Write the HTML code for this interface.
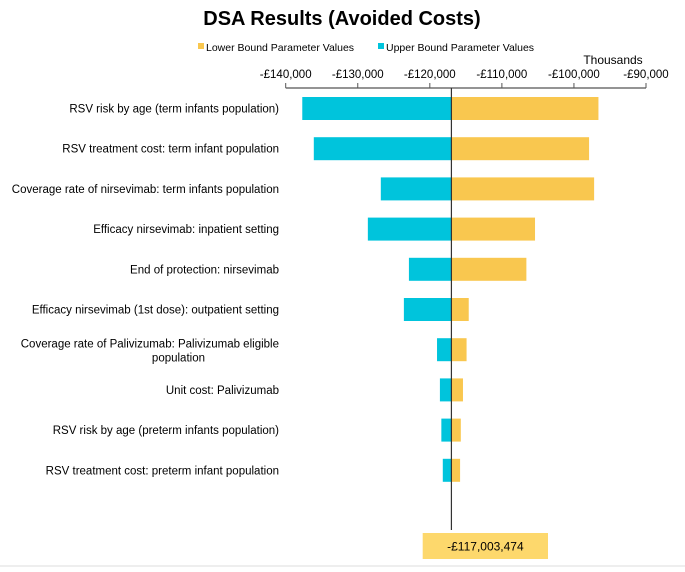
<!DOCTYPE html>
<html><head><meta charset="utf-8"><style>
body{margin:0;background:#fff;font-family:"Liberation Sans",Arial,sans-serif}
svg text{font-family:"Liberation Sans",Arial,sans-serif}
</style></head><body>
<svg id="c" width="685" height="567" xmlns="http://www.w3.org/2000/svg">
<text x="342" y="25" text-anchor="middle" font-size="20" font-weight="bold">DSA Results (Avoided Costs)</text>
<g>
<rect x="198" y="43" width="6" height="6" fill="#f9c74f"/>
<text x="206" y="51" font-size="10.5">Lower Bound Parameter Values</text>
<rect x="378" y="43" width="6" height="6" fill="#00c4dc"/>
<text x="386" y="51" font-size="10.5">Upper Bound Parameter Values</text>
</g>
<text x="613" y="64" text-anchor="middle" font-size="12">Thousands</text>
<g id="plot"></g>
</svg>
<script>
const categories=["RSV risk by age (term infants population)","RSV treatment cost: term infant population","Coverage rate of nirsevimab: term infants population","Efficacy nirsevimab: inpatient setting","End of protection: nirsevimab","Efficacy nirsevimab (1st dose): outpatient setting","Coverage rate of Palivizumab: Palivizumab eligible|population","Unit cost: Palivizumab","RSV risk by age (preterm infants population)","RSV treatment cost: preterm infant population"];
const upperValues=[-137.7,-136.1,-126.8,-128.6,-122.9,-123.6,-119.0,-118.6,-118.4,-118.2];
const lowerValues=[-96.6,-97.9,-97.2,-105.4,-106.6,-114.6,-114.9,-115.4,-115.7,-115.8];
const baseValue=-117.003474;
const baseLabel="-£117,003,474";
const ticks=[-140,-130,-120,-110,-100,-90];
const tickLabels=["-£140,000","-£130,000","-£120,000","-£110,000","-£100,000","-£90,000"];
const NS="http://www.w3.org/2000/svg";
const g=document.getElementById('plot');
const x=v=>285.7+(v+140)*7.206;
const rowY=i=>108.5+i*40.2;
function mk(t,a){const e=document.createElementNS(NS,t);for(const k in a)e.setAttribute(k,a[k]);g.appendChild(e);return e;}
let ax=mk('line',{x1:x(-140),x2:x(-90),y1:88,y2:88,stroke:'#555','stroke-width':1.2});


ticks.forEach((t,i)=>{
 const l=mk('line',{x1:x(t),x2:x(t),y1:83,y2:88,stroke:'#555'});
 
 
 const tx=mk('text',{x:x(t),y:78,'text-anchor':'middle','font-size':11.5});
 tx.textContent=tickLabels[i];
 
 
});
categories.forEach((c,i)=>{
 const y=rowY(i);
 const ub=mk('rect',{x:x(upperValues[i]),y:y-11.5,width:x(baseValue)-x(upperValues[i]),height:23,fill:'#00c4dc'});
 
 
 const lb=mk('rect',{x:x(baseValue),y:y-11.5,width:x(lowerValues[i])-x(baseValue),height:23,fill:'#f9c74f'});
 
 
 const parts=c.split('|');
 const tx=mk('text',{x:279,y:parts.length>1?y-2:y+4,'text-anchor':'end','font-size':11.5});
 
 
 if(parts.length>1){tx.setAttribute('x',279);tx.setAttribute('text-anchor','end');
  tx.textContent='';const s1=document.createElementNS(NS,'tspan');s1.setAttribute('x',279);s1.textContent=parts[0];tx.appendChild(s1);
  const s2=document.createElementNS(NS,'tspan');s2.setAttribute('x',205);s2.setAttribute('dy',14);s2.textContent=parts[1];tx.appendChild(s2);}
 else tx.textContent=c;
});
const bl=mk('line',{x1:x(baseValue),x2:x(baseValue),y1:88,y2:530,stroke:'#333','stroke-width':1.2});


const bx=mk('rect',{x:422.7,y:533,width:125.3,height:26,fill:'#fdd86c'});


const bt=mk('text',{x:485.4,y:550.5,'text-anchor':'middle','font-size':12});
bt.textContent=baseLabel;


const bd=mk('line',{x1:0,x2:685,y1:566,y2:566,stroke:'#ddd'});


</script>
</body></html>
